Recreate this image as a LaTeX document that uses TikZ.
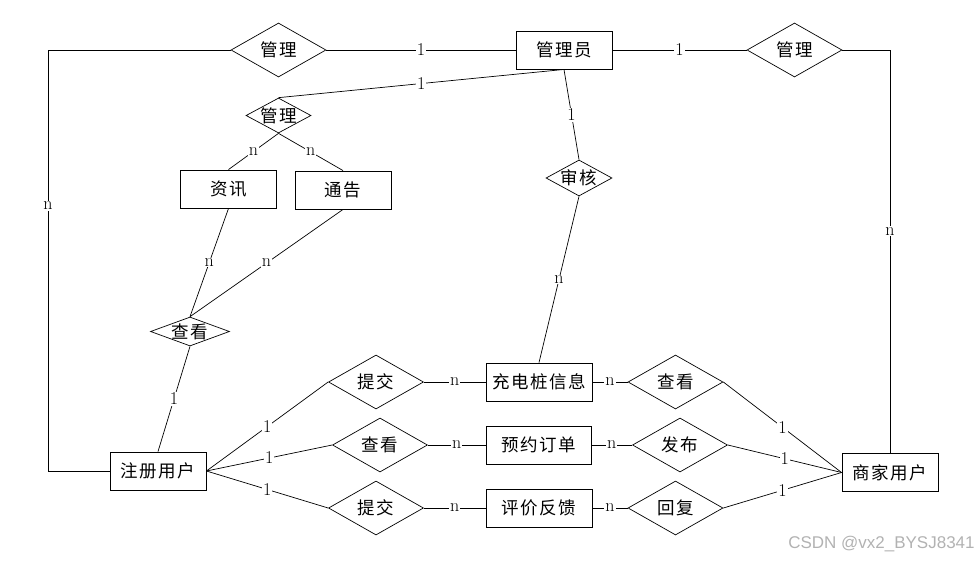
\documentclass[tikz,border=0pt]{standalone}
\usepackage{fontspec}
\newfontfamily\cjk[LetterSpace=8]{Noto Sans CJK SC}
\newfontfamily\wmfont{Liberation Sans}
\usetikzlibrary{shapes.geometric}
\begin{document}
\begin{tikzpicture}[x=1pt,y=-1pt,line width=0.7pt,
  ent/.style={draw, line width=0.9pt, rectangle, minimum width=96pt, minimum height=38pt, inner sep=0pt, font=\cjk\fontsize{17.5}{20}\selectfont},
  rel/.style={draw, diamond, inner sep=-2pt, aspect=1.76, minimum width=95pt, minimum height=54pt, font=\cjk\fontsize{17.5}{20}\selectfont},
  lab/.style={fill=white, inner sep=1pt, font=\fontsize{18}{18}\selectfont}]
\useasboundingbox (0,0) rectangle (979,562);
% nodes
\node[ent] (admin) at (564,50) {管理员};
\node[rel] (mgL) at (278.5,50) {管理};
\node[rel] (mgR) at (794.5,50) {管理};
\node[rel, aspect=1.86, minimum width=65pt, minimum height=35pt] (mgS) at (278.5,115.5) {管理};
\node[ent] (zx) at (228.5,189) {资讯};
\node[ent] (tg) at (343,190) {通告};
\node[rel, aspect=2.72, minimum width=79pt, minimum height=29pt] (ckL) at (190,331.5) {查看};
\node[rel, aspect=1.83, minimum width=66pt, minimum height=36pt] (sh) at (579,178) {审核};
\node[ent] (user) at (158,471) {注册用户};
\node[rel] (tj1) at (376,382) {提交};
\node[rel] (ck2) at (380,445) {查看};
\node[rel] (tj2) at (376,508) {提交};
\node[ent, minimum width=106pt] (cdz) at (539,382) {充电桩信息};
\node[ent, minimum width=105pt] (yy) at (538.5,445) {预约订单};
\node[ent, minimum width=106pt] (pj) at (539,508) {评价反馈};
\node[rel] (ck3) at (675.5,382) {查看};
\node[rel] (fb) at (680,445) {发布};
\node[rel] (hf) at (675.5,508) {回复};
\node[ent] (shop) at (890,472.5) {商家用户};
\coordinate (cL1) at (48,50);
\coordinate (cL2) at (48,471);
\coordinate (cR1) at (890,50);
% connectors
\draw (mgL.east) -- node[lab] {1} (admin.west);
\draw (mgL.west) -- (cL1) -- node[lab, pos=0.37] {n} (cL2) -- (user.west);
\draw (admin.east) -- node[lab] {1} (mgR.west);
\draw (mgR.east) -- (cR1) -- node[lab, pos=0.45] {n} (shop.north);
\draw (admin.south) -- node[lab] {1} (mgS.north);
\draw (mgS.south) -- node[lab] {n} (zx.north);
\draw (mgS.south) -- node[lab] {n} (tg.north);
\draw (zx.south) -- node[lab] {n} (ckL.north);
\draw (tg.south) -- node[lab] {n} (ckL.north);
\draw (ckL.south) -- node[lab] {1} (user.north);
\draw (admin.south) -- node[lab] {1} (sh.north);
\draw (sh.south) -- node[lab] {n} (cdz.north);
\draw (user.east) -- node[lab] {1} (tj1.west);
\draw (user.east) -- node[lab] {1} (ck2.west);
\draw (user.east) -- node[lab] {1} (tj2.west);
\draw (tj1.east) -- node[lab] {n} (cdz.west);
\draw (ck2.east) -- node[lab] {n} (yy.west);
\draw (tj2.east) -- node[lab] {n} (pj.west);
\draw (cdz.east) -- node[lab] {n} (ck3.west);
\draw (yy.east) -- node[lab] {n} (fb.west);
\draw (pj.east) -- node[lab] {n} (hf.west);
\draw (ck3.east) -- node[lab] {1} (shop.west);
\draw (fb.east) -- node[lab] {1} (shop.west);
\draw (hf.east) -- node[lab] {1} (shop.west);
\node[anchor=east, text=black!30, font=\wmfont\fontsize{17}{17}\selectfont, inner sep=0pt] (wm) at (975,544) {CSDN @vx2\_BYSJ8341};
\end{tikzpicture}
\end{document}
